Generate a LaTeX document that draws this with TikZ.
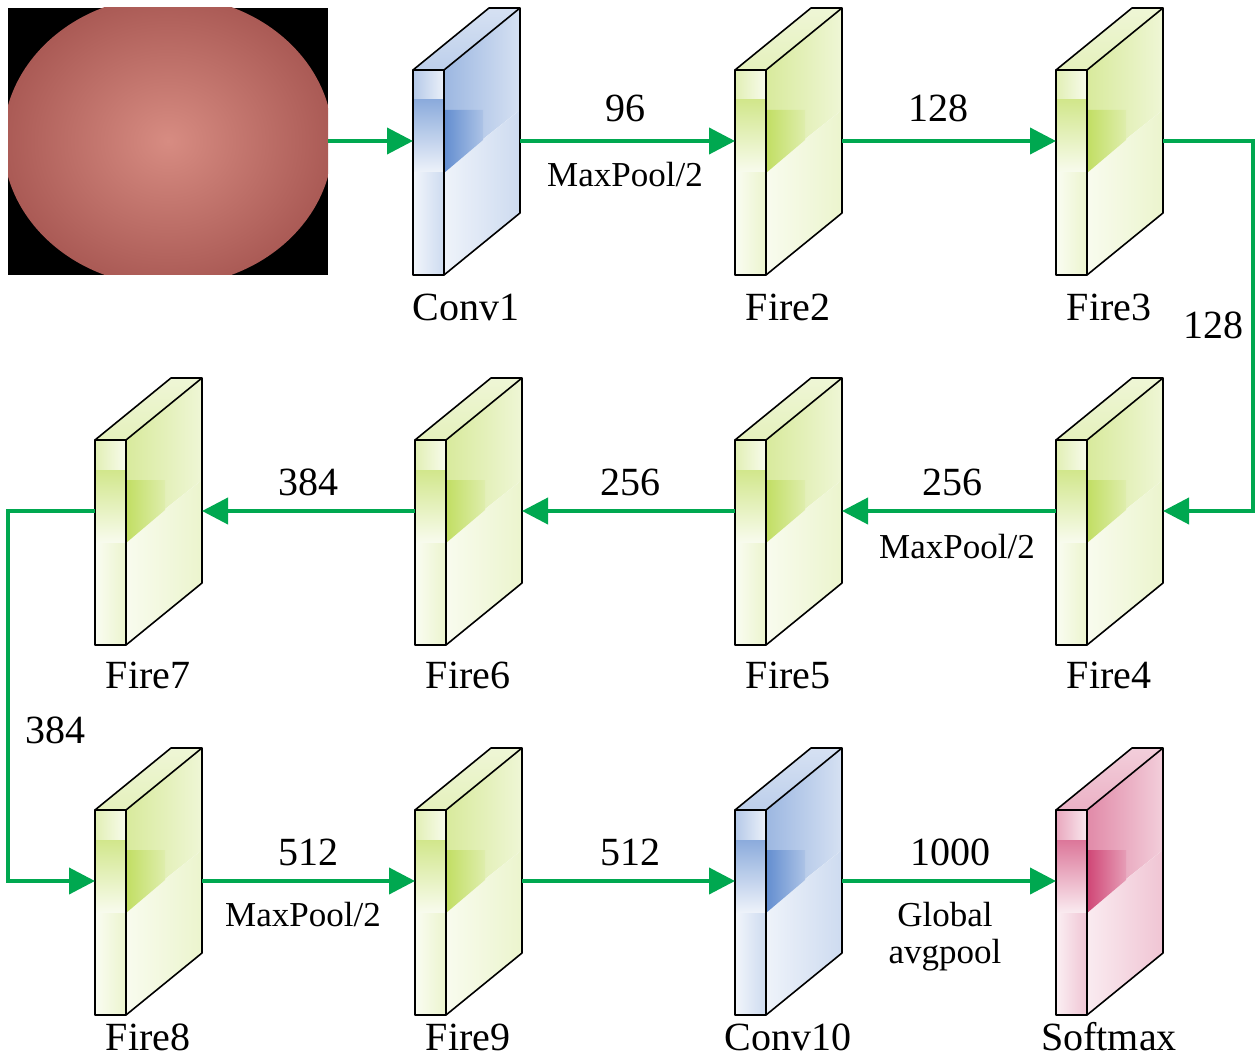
\documentclass[tikz,border=0pt]{standalone}
\usepackage{fontspec}
\setmainfont{Liberation Serif}
\usetikzlibrary{arrows.meta}
\definecolor{arr}{RGB}{0,168,80}
\definecolor{fg}{RGB}{190,220,90}
\definecolor{bl}{RGB}{90,135,205}
\definecolor{pk}{RGB}{205,60,110}
\tikzset{
  flow/.style={draw=arr,line width=4pt,-{Triangle[length=26pt,width=26pt]}},
  lbl/.style={font=\fontsize{40}{42}\selectfont,inner sep=0pt},
  elbl/.style={font=\fontsize{35}{37}\selectfont,inner sep=0pt,align=center},
  edge/.style={draw=black,line width=1.6pt,line join=round}
}
\newcommand{\blk}[6]{%
  \begin{scope}[shift={(#2,#3)}]
    \shade[left color=#4!45,right color=#4!12] (0,0) rectangle (31,205);
    \shade[top color=#4!70,bottom color=#4!10] (0,30) rectangle (31,103);
    \fill[white] (0,103) rectangle (31,205);
    \shade[left color=#4!8,right color=#4!30] (0,103) rectangle (31,205);
    \shade[left color=#4!60,right color=#4!25] (31,0)--(107,-62)--(107,143)--(31,205)--cycle;
    \fill[white] (31,100)--(107,40)--(107,143)--(31,205)--cycle;
    \shade[left color=#4!10,right color=#4!30] (31,100)--(107,40)--(107,143)--(31,205)--cycle;
    \shade[left color=#4!95,right color=#4!50] (31,40)--(70,40)--(70,70)--(31,103)--cycle;
    \shade[top color=#4!25,bottom color=#4!40] (0,0)--(76,-62)--(107,-62)--(31,0)--cycle;
    \draw[edge] (0,0) rectangle (31,205);
    \draw[edge] (31,0)--(107,-62)--(107,143)--(31,205);
    \draw[edge] (0,0)--(76,-62)--(107,-62);
  \end{scope}
  \coordinate (#1-l) at (#2,#3+71);
  \coordinate (#1-r) at (#2+107,#3+71);
  \node[lbl,anchor=base] (#1-t) at (#2+53,#3+#6) {#5};
}
\begin{document}
\begin{tikzpicture}[x=1pt,y=-1pt]
\useasboundingbox (0,0) rectangle (1260,1064);
% image
\fill[black] (8,8) rectangle (328,275);
\begin{scope}
\clip (8,8) rectangle (328,275);
\shade[inner color={rgb,255:red,215;green,140;blue,130},outer color={rgb,255:red,170;green,90;blue,85}] (168,141) ellipse (165 and 145);
\end{scope}
\node[inner sep=0pt,minimum width=320pt,minimum height=267pt] (img) at (168,141.5) {};
\coordinate (img-r) at (328,141);
\blk{c1}{413}{70}{bl}{Conv1}{250}
\blk{f2}{735}{70}{fg}{Fire2}{250}
\blk{f3}{1056}{70}{fg}{Fire3}{250}
\blk{f7}{95}{440}{fg}{Fire7}{248}
\blk{f6}{415}{440}{fg}{Fire6}{248}
\blk{f5}{735}{440}{fg}{Fire5}{248}
\blk{f4}{1056}{440}{fg}{Fire4}{248}
\blk{f8}{95}{810}{fg}{Fire8}{240}
\blk{f9}{415}{810}{fg}{Fire9}{240}
\blk{c10}{735}{810}{bl}{Conv10}{240}
\blk{sm}{1056}{810}{pk}{Softmax}{240}
\coordinate (ra) at (1253,141);
\coordinate (rb) at (1253,511);
\coordinate (la) at (8,511);
\coordinate (lb) at (8,881);
\draw[flow] (img-r) -- (c1-l);
\draw[flow] (c1-r) -- (f2-l);
\draw[flow] (f2-r) -- (f3-l);
\draw[flow] (f3-r) -- (ra) -- (rb) -- (f4-r);
\draw[flow] (f4-l) -- (f5-r);
\draw[flow] (f5-l) -- (f6-r);
\draw[flow] (f6-l) -- (f7-r);
\draw[flow] (f7-l) -- (la) -- (lb) -- (f8-l);
\draw[flow] (f8-r) -- (f9-l);
\draw[flow] (f9-r) -- (c10-l);
\draw[flow] (c10-r) -- (sm-l);
\node[lbl] (e1) at (625,108) {96};
\node[elbl] (e1b) at (625,175) {MaxPool/2};
\node[lbl] (e2) at (938,108) {128};
\node[lbl] (e3) at (1213,325) {128};
\node[lbl] (e4) at (952,482) {256};
\node[elbl] (e4b) at (957,547) {MaxPool/2};
\node[lbl] (e5) at (630,482) {256};
\node[lbl] (e6) at (308,482) {384};
\node[lbl] (e7) at (55,730) {384};
\node[lbl] (e8) at (308,852) {512};
\node[elbl] (e8b) at (303,915) {MaxPool/2};
\node[lbl] (e9) at (630,852) {512};
\node[lbl] (e10) at (950,852) {1000};
\node[elbl] (e10b) at (945,937) {Global\\avgpool};
\end{tikzpicture}
\end{document}
